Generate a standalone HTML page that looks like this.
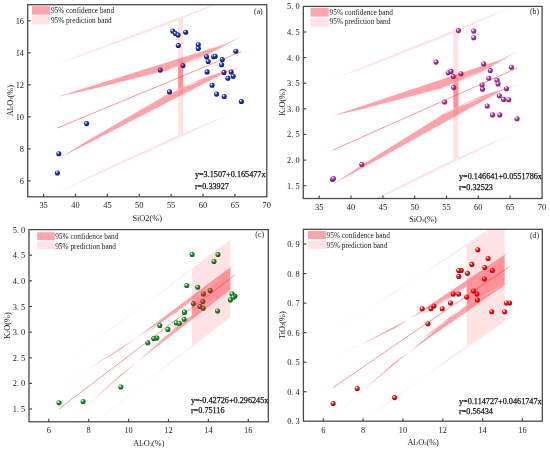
<!DOCTYPE html><html><head><meta charset="utf-8"><style>
html,body{margin:0;padding:0;background:#fff;width:550px;height:451px;overflow:hidden}
svg{display:block;will-change:transform}
text{font-family:"Liberation Serif",serif;fill:#222}
.b{stroke:#111;stroke-width:0.25px}
</style></head><body>
<svg width="550" height="451" viewBox="0 0 550 451">
<defs>
<radialGradient id="ga" cx="0.45" cy="0.42" r="0.6" fx="0.33" fy="0.3"><stop offset="0" stop-color="#ffffff"/><stop offset="0.18" stop-color="#b8c4ff"/><stop offset="0.45" stop-color="#1838a8"/><stop offset="1" stop-color="#0a1a70"/></radialGradient>
<radialGradient id="gb" cx="0.45" cy="0.42" r="0.6" fx="0.33" fy="0.3"><stop offset="0" stop-color="#ffffff"/><stop offset="0.18" stop-color="#f8d0f8"/><stop offset="0.45" stop-color="#b038b0"/><stop offset="1" stop-color="#781878"/></radialGradient>
<radialGradient id="gc" cx="0.45" cy="0.42" r="0.6" fx="0.33" fy="0.3"><stop offset="0" stop-color="#ffffff"/><stop offset="0.18" stop-color="#c0f4c8"/><stop offset="0.45" stop-color="#129a30"/><stop offset="1" stop-color="#056018"/></radialGradient>
<radialGradient id="gd" cx="0.45" cy="0.42" r="0.6" fx="0.33" fy="0.3"><stop offset="0" stop-color="#ffffff"/><stop offset="0.18" stop-color="#ffd0d0"/><stop offset="0.45" stop-color="#f21414"/><stop offset="1" stop-color="#a80000"/></radialGradient>
</defs>
<clipPath id="ca"><rect x="27.7" y="4.7" width="239.1" height="192.1"/></clipPath>
<circle cx="57.4" cy="173.0" r="2.55" fill="url(#ga)"/>
<circle cx="58.8" cy="153.7" r="2.55" fill="url(#ga)"/>
<circle cx="86.6" cy="123.6" r="2.55" fill="url(#ga)"/>
<circle cx="160.3" cy="70.1" r="2.55" fill="url(#ga)"/>
<circle cx="169.5" cy="91.9" r="2.55" fill="url(#ga)"/>
<circle cx="172.8" cy="31.1" r="2.55" fill="url(#ga)"/>
<circle cx="175.5" cy="33.5" r="2.55" fill="url(#ga)"/>
<circle cx="178.1" cy="35.1" r="2.55" fill="url(#ga)"/>
<circle cx="178.3" cy="45.5" r="2.55" fill="url(#ga)"/>
<circle cx="183.0" cy="65.6" r="2.55" fill="url(#ga)"/>
<circle cx="185.7" cy="32.2" r="2.55" fill="url(#ga)"/>
<circle cx="198.3" cy="44.8" r="2.55" fill="url(#ga)"/>
<circle cx="198.3" cy="48.5" r="2.55" fill="url(#ga)"/>
<circle cx="206.6" cy="56.7" r="2.55" fill="url(#ga)"/>
<circle cx="207.1" cy="71.9" r="2.55" fill="url(#ga)"/>
<circle cx="208.2" cy="61.5" r="2.55" fill="url(#ga)"/>
<circle cx="212.1" cy="85.3" r="2.55" fill="url(#ga)"/>
<circle cx="213.6" cy="56.8" r="2.55" fill="url(#ga)"/>
<circle cx="215.2" cy="56.2" r="2.55" fill="url(#ga)"/>
<circle cx="216.6" cy="94.1" r="2.55" fill="url(#ga)"/>
<circle cx="221.6" cy="64.7" r="2.55" fill="url(#ga)"/>
<circle cx="222.3" cy="59.6" r="2.55" fill="url(#ga)"/>
<circle cx="224.0" cy="72.4" r="2.55" fill="url(#ga)"/>
<circle cx="224.2" cy="96.5" r="2.55" fill="url(#ga)"/>
<circle cx="227.9" cy="78.3" r="2.55" fill="url(#ga)"/>
<circle cx="231.2" cy="72.0" r="2.55" fill="url(#ga)"/>
<circle cx="233.2" cy="76.2" r="2.55" fill="url(#ga)"/>
<circle cx="235.8" cy="51.2" r="2.55" fill="url(#ga)"/>
<circle cx="241.4" cy="101.5" r="2.55" fill="url(#ga)"/>
<g clip-path="url(#ca)">
<path d="M178.07,20.42 L208.23,7.84 L227.93,-0.79 L198.28,12.08 L198.28,12.08 L213.59,5.53 L185.66,17.33 L207.08,8.34 L235.84,-4.34 L224.23,0.86 L241.45,-6.90 L175.46,21.48 L160.35,27.46 L216.58,4.22 L223.98,0.97 L178.26,20.35 L206.57,8.56 L169.47,23.87 L233.16,-3.13 L215.18,4.84 L222.26,1.73 L221.56,2.04 L212.06,6.19 L231.18,-2.25 L58.78,63.01 L57.44,63.43 L86.58,54.02 L172.78,22.55 L183.05,18.40 L183.05,133.31 L172.78,137.69 L86.58,177.84 L57.44,192.63 L58.78,191.93 L231.18,113.96 L212.06,121.42 L221.56,117.68 L222.26,117.40 L215.18,120.18 L233.16,113.21 L169.47,139.12 L206.57,123.61 L178.26,135.34 L223.98,116.73 L216.58,119.62 L160.35,143.11 L175.46,136.54 L241.45,110.09 L224.23,116.64 L235.84,112.20 L207.08,123.40 L185.66,132.21 L213.59,120.81 L198.28,126.97 L198.28,126.97 L227.93,115.21 L208.23,122.94 L178.07,135.42 Z" fill="rgb(255,0,20)" fill-opacity="0.114" fill-rule="nonzero"/>
<path d="M178.07,67.04 L208.23,54.25 L227.93,43.94 L198.28,58.92 L198.28,58.92 L213.59,51.57 L185.66,64.21 L207.08,54.81 L235.84,39.52 L224.23,45.96 L241.45,36.31 L175.46,67.96 L160.35,72.78 L216.58,50.03 L223.98,46.10 L178.26,66.98 L206.57,55.06 L169.47,69.97 L233.16,41.03 L215.18,50.75 L222.26,47.03 L221.56,47.40 L212.06,52.35 L231.18,42.13 L58.78,96.37 L57.44,96.65 L86.58,90.53 L172.78,68.87 L183.05,65.22 L183.05,86.49 L172.78,91.36 L86.58,141.33 L57.44,159.41 L58.78,158.58 L231.18,69.58 L212.06,75.26 L221.56,72.32 L222.26,72.11 L215.18,74.26 L233.16,69.05 L169.47,93.03 L206.57,77.11 L178.26,88.71 L223.98,71.61 L216.58,73.82 L160.35,97.79 L175.46,90.05 L241.45,66.88 L224.23,71.53 L235.84,68.34 L207.08,76.93 L185.66,85.32 L213.59,74.77 L198.28,80.13 L198.28,80.13 L227.93,70.48 L208.23,76.54 L178.07,88.80 Z" fill="rgb(255,0,20)" fill-opacity="0.36" fill-rule="nonzero"/>
<line x1="57.4" y1="128.0" x2="241.4" y2="51.6" stroke="rgb(236,30,45)" stroke-opacity="0.5" stroke-width="0.9"/>
</g>
<rect x="27.7" y="4.7" width="239.1" height="192.1" fill="none" stroke="#4a4a4a" stroke-width="1.3"/>
<line x1="43.6" y1="196.8" x2="43.6" y2="193.8" stroke="#4a4a4a" stroke-width="1.2"/>
<text x="43.6" y="208.4" font-size="8.4" text-anchor="middle" fill="#3a3a3a">35</text>
<line x1="75.5" y1="196.8" x2="75.5" y2="193.8" stroke="#4a4a4a" stroke-width="1.2"/>
<text x="75.5" y="208.4" font-size="8.4" text-anchor="middle" fill="#3a3a3a">40</text>
<line x1="107.4" y1="196.8" x2="107.4" y2="193.8" stroke="#4a4a4a" stroke-width="1.2"/>
<text x="107.4" y="208.4" font-size="8.4" text-anchor="middle" fill="#3a3a3a">45</text>
<line x1="139.2" y1="196.8" x2="139.2" y2="193.8" stroke="#4a4a4a" stroke-width="1.2"/>
<text x="139.2" y="208.4" font-size="8.4" text-anchor="middle" fill="#3a3a3a">50</text>
<line x1="171.1" y1="196.8" x2="171.1" y2="193.8" stroke="#4a4a4a" stroke-width="1.2"/>
<text x="171.1" y="208.4" font-size="8.4" text-anchor="middle" fill="#3a3a3a">55</text>
<line x1="203.0" y1="196.8" x2="203.0" y2="193.8" stroke="#4a4a4a" stroke-width="1.2"/>
<text x="203.0" y="208.4" font-size="8.4" text-anchor="middle" fill="#3a3a3a">60</text>
<line x1="234.9" y1="196.8" x2="234.9" y2="193.8" stroke="#4a4a4a" stroke-width="1.2"/>
<text x="234.9" y="208.4" font-size="8.4" text-anchor="middle" fill="#3a3a3a">65</text>
<text x="266.8" y="208.4" font-size="8.4" text-anchor="middle" fill="#3a3a3a">70</text>
<line x1="27.7" y1="180.9" x2="30.7" y2="180.9" stroke="#4a4a4a" stroke-width="1.2"/>
<text x="24.0" y="183.9" font-size="8.4" text-anchor="end" fill="#3a3a3a">6</text>
<line x1="27.7" y1="148.9" x2="30.7" y2="148.9" stroke="#4a4a4a" stroke-width="1.2"/>
<text x="24.0" y="151.9" font-size="8.4" text-anchor="end" fill="#3a3a3a">8</text>
<line x1="27.7" y1="116.8" x2="30.7" y2="116.8" stroke="#4a4a4a" stroke-width="1.2"/>
<text x="24.0" y="119.8" font-size="8.4" text-anchor="end" fill="#3a3a3a">10</text>
<line x1="27.7" y1="84.8" x2="30.7" y2="84.8" stroke="#4a4a4a" stroke-width="1.2"/>
<text x="24.0" y="87.8" font-size="8.4" text-anchor="end" fill="#3a3a3a">12</text>
<line x1="27.7" y1="52.8" x2="30.7" y2="52.8" stroke="#4a4a4a" stroke-width="1.2"/>
<text x="24.0" y="55.8" font-size="8.4" text-anchor="end" fill="#3a3a3a">14</text>
<line x1="27.7" y1="20.8" x2="30.7" y2="20.8" stroke="#4a4a4a" stroke-width="1.2"/>
<text x="24.0" y="23.8" font-size="8.4" text-anchor="end" fill="#3a3a3a">16</text>
<rect x="32.0" y="6.2" width="18.2" height="8.5" fill="#ffa4aa"/>
<rect x="32.0" y="16.0" width="18.2" height="8.5" fill="#ffe2e4"/>
<text x="50.9" y="13.3" font-size="7.3" fill="#1a1a1a">95% confidence band</text>
<text x="50.9" y="23.2" font-size="7.3" fill="#1a1a1a">95% prediction band</text>
<text x="194.9" y="176.6" font-size="8.2" fill="#111" class="b">y=3.1507+0.165477x</text>
<text x="194.9" y="189.0" font-size="8.2" fill="#111" class="b">r=0.33927</text>
<text x="262.7" y="14.0" font-size="7.8" text-anchor="end" fill="#333">(a)</text>
<text x="147.2" y="221.2" font-size="8.3" text-anchor="middle" fill="#151515">SiO<tspan>2</tspan>(%)</text>
<text transform="translate(12.6,100.7) rotate(-90)" font-size="8.3" text-anchor="middle" fill="#151515">Al<tspan font-size="4.5">2</tspan>O<tspan font-size="4.5">3</tspan>(%)</text>
<clipPath id="cb"><rect x="303.3" y="6.4" width="238.8" height="192.1"/></clipPath>
<circle cx="332.5" cy="179.5" r="2.55" fill="url(#gb)"/>
<circle cx="333.5" cy="178.5" r="2.55" fill="url(#gb)"/>
<circle cx="361.8" cy="164.5" r="2.55" fill="url(#gb)"/>
<circle cx="436.0" cy="62.1" r="2.55" fill="url(#gb)"/>
<circle cx="444.6" cy="102.0" r="2.55" fill="url(#gb)"/>
<circle cx="448.2" cy="72.8" r="2.55" fill="url(#gb)"/>
<circle cx="451.1" cy="71.4" r="2.55" fill="url(#gb)"/>
<circle cx="453.3" cy="76.5" r="2.55" fill="url(#gb)"/>
<circle cx="453.7" cy="87.6" r="2.55" fill="url(#gb)"/>
<circle cx="458.4" cy="30.6" r="2.55" fill="url(#gb)"/>
<circle cx="461.0" cy="73.7" r="2.55" fill="url(#gb)"/>
<circle cx="473.7" cy="31.1" r="2.55" fill="url(#gb)"/>
<circle cx="473.7" cy="37.7" r="2.55" fill="url(#gb)"/>
<circle cx="482.1" cy="85.0" r="2.55" fill="url(#gb)"/>
<circle cx="482.5" cy="89.2" r="2.55" fill="url(#gb)"/>
<circle cx="483.7" cy="63.9" r="2.55" fill="url(#gb)"/>
<circle cx="487.2" cy="106.0" r="2.55" fill="url(#gb)"/>
<circle cx="488.8" cy="78.3" r="2.55" fill="url(#gb)"/>
<circle cx="490.3" cy="70.6" r="2.55" fill="url(#gb)"/>
<circle cx="492.5" cy="114.9" r="2.55" fill="url(#gb)"/>
<circle cx="497.0" cy="80.3" r="2.55" fill="url(#gb)"/>
<circle cx="498.1" cy="83.9" r="2.55" fill="url(#gb)"/>
<circle cx="499.4" cy="95.8" r="2.55" fill="url(#gb)"/>
<circle cx="499.8" cy="114.9" r="2.55" fill="url(#gb)"/>
<circle cx="503.6" cy="99.4" r="2.55" fill="url(#gb)"/>
<circle cx="506.5" cy="88.7" r="2.55" fill="url(#gb)"/>
<circle cx="508.7" cy="99.8" r="2.55" fill="url(#gb)"/>
<circle cx="511.4" cy="67.2" r="2.55" fill="url(#gb)"/>
<circle cx="517.1" cy="118.7" r="2.55" fill="url(#gb)"/>
<g clip-path="url(#cb)">
<path d="M453.33,33.27 L483.73,19.70 L503.58,10.39 L473.68,24.28 L473.68,24.28 L488.82,17.35 L461.02,29.92 L482.52,20.26 L511.40,6.62 L499.82,12.18 L517.12,3.82 L451.10,34.23 L436.03,40.61 L492.51,15.63 L499.38,12.39 L453.71,33.11 L482.08,20.46 L444.61,37.00 L508.73,7.91 L490.28,16.67 L498.11,12.99 L497.02,13.50 L487.23,18.09 L506.50,8.98 L333.49,78.84 L332.48,79.18 L361.80,69.11 L448.18,35.49 L458.42,31.06 L458.42,157.38 L448.18,162.06 L361.80,205.21 L332.48,221.20 L333.49,220.63 L506.50,136.72 L487.23,144.75 L497.02,140.63 L498.11,140.18 L490.28,143.45 L508.73,135.82 L444.61,163.71 L482.08,146.95 L453.71,159.52 L499.38,139.65 L492.51,142.52 L436.03,167.74 L451.10,160.71 L517.12,132.44 L499.82,139.46 L511.40,134.74 L482.52,146.76 L461.02,156.21 L488.82,144.07 L473.68,150.59 L473.68,150.59 L503.58,137.92 L483.73,146.24 L453.33,159.70 Z" fill="rgb(255,0,20)" fill-opacity="0.114" fill-rule="nonzero"/>
<path d="M453.33,84.52 L483.73,70.72 L503.58,59.55 L473.68,75.78 L473.68,75.78 L488.82,67.99 L461.02,81.46 L482.52,71.35 L511.40,54.83 L499.82,61.76 L517.12,51.31 L451.10,85.35 L436.03,90.47 L492.51,65.94 L499.38,62.01 L453.71,84.37 L482.08,71.58 L444.61,87.66 L508.73,56.46 L490.28,67.18 L498.11,62.75 L497.02,63.38 L487.23,68.85 L506.50,57.80 L333.49,115.48 L332.48,115.70 L361.80,109.27 L448.18,86.42 L458.42,82.53 L458.42,105.92 L448.18,111.13 L361.80,165.05 L332.48,184.68 L333.49,183.99 L506.50,87.91 L487.23,93.99 L497.02,90.75 L498.11,90.42 L490.28,92.94 L508.73,87.27 L444.61,113.05 L482.08,95.83 L453.71,108.25 L499.38,90.02 L492.51,92.20 L436.03,117.87 L451.10,109.59 L517.12,84.96 L499.82,89.89 L511.40,86.52 L482.52,95.67 L461.02,104.67 L488.82,93.44 L473.68,99.09 L473.68,99.09 L503.58,88.76 L483.73,95.23 L453.33,108.45 Z" fill="rgb(255,0,20)" fill-opacity="0.36" fill-rule="nonzero"/>
<line x1="332.5" y1="150.2" x2="517.1" y2="68.1" stroke="rgb(236,30,45)" stroke-opacity="0.5" stroke-width="0.9"/>
</g>
<rect x="303.3" y="6.4" width="238.8" height="192.1" fill="none" stroke="#4a4a4a" stroke-width="1.3"/>
<line x1="319.2" y1="198.5" x2="319.2" y2="195.5" stroke="#4a4a4a" stroke-width="1.2"/>
<text x="319.2" y="210.1" font-size="8.4" text-anchor="middle" fill="#3a3a3a">35</text>
<line x1="351.0" y1="198.5" x2="351.0" y2="195.5" stroke="#4a4a4a" stroke-width="1.2"/>
<text x="351.0" y="210.1" font-size="8.4" text-anchor="middle" fill="#3a3a3a">40</text>
<line x1="382.9" y1="198.5" x2="382.9" y2="195.5" stroke="#4a4a4a" stroke-width="1.2"/>
<text x="382.9" y="210.1" font-size="8.4" text-anchor="middle" fill="#3a3a3a">45</text>
<line x1="414.7" y1="198.5" x2="414.7" y2="195.5" stroke="#4a4a4a" stroke-width="1.2"/>
<text x="414.7" y="210.1" font-size="8.4" text-anchor="middle" fill="#3a3a3a">50</text>
<line x1="446.5" y1="198.5" x2="446.5" y2="195.5" stroke="#4a4a4a" stroke-width="1.2"/>
<text x="446.5" y="210.1" font-size="8.4" text-anchor="middle" fill="#3a3a3a">55</text>
<line x1="478.3" y1="198.5" x2="478.3" y2="195.5" stroke="#4a4a4a" stroke-width="1.2"/>
<text x="478.3" y="210.1" font-size="8.4" text-anchor="middle" fill="#3a3a3a">60</text>
<line x1="510.1" y1="198.5" x2="510.1" y2="195.5" stroke="#4a4a4a" stroke-width="1.2"/>
<text x="510.1" y="210.1" font-size="8.4" text-anchor="middle" fill="#3a3a3a">65</text>
<text x="541.9" y="210.1" font-size="8.4" text-anchor="middle" fill="#3a3a3a">70</text>
<line x1="303.3" y1="185.7" x2="306.3" y2="185.7" stroke="#4a4a4a" stroke-width="1.2"/>
<text x="299.6" y="188.7" font-size="8.4" text-anchor="end" fill="#3a3a3a">1. 5</text>
<line x1="303.3" y1="160.1" x2="306.3" y2="160.1" stroke="#4a4a4a" stroke-width="1.2"/>
<text x="299.6" y="163.1" font-size="8.4" text-anchor="end" fill="#3a3a3a">2. 0</text>
<line x1="303.3" y1="134.4" x2="306.3" y2="134.4" stroke="#4a4a4a" stroke-width="1.2"/>
<text x="299.6" y="137.4" font-size="8.4" text-anchor="end" fill="#3a3a3a">2. 5</text>
<line x1="303.3" y1="108.8" x2="306.3" y2="108.8" stroke="#4a4a4a" stroke-width="1.2"/>
<text x="299.6" y="111.8" font-size="8.4" text-anchor="end" fill="#3a3a3a">3. 0</text>
<line x1="303.3" y1="83.2" x2="306.3" y2="83.2" stroke="#4a4a4a" stroke-width="1.2"/>
<text x="299.6" y="86.2" font-size="8.4" text-anchor="end" fill="#3a3a3a">3. 5</text>
<line x1="303.3" y1="57.6" x2="306.3" y2="57.6" stroke="#4a4a4a" stroke-width="1.2"/>
<text x="299.6" y="60.6" font-size="8.4" text-anchor="end" fill="#3a3a3a">4. 0</text>
<line x1="303.3" y1="32.0" x2="306.3" y2="32.0" stroke="#4a4a4a" stroke-width="1.2"/>
<text x="299.6" y="35.0" font-size="8.4" text-anchor="end" fill="#3a3a3a">4. 5</text>
<text x="299.6" y="9.4" font-size="8.4" text-anchor="end" fill="#3a3a3a">5. 0</text>
<rect x="310.6" y="8.0" width="18.0" height="8.6" fill="#ffa4aa"/>
<rect x="310.6" y="18.2" width="18.0" height="8.6" fill="#ffe2e4"/>
<text x="329.6" y="15.0" font-size="7.3" fill="#1a1a1a">95% confidence band</text>
<text x="329.6" y="24.2" font-size="7.3" fill="#1a1a1a">95% prediction band</text>
<text x="459.0" y="178.9" font-size="8.2" fill="#111" class="b">y=0.146641+0.0551786x</text>
<text x="459.0" y="189.5" font-size="8.2" fill="#111" class="b">r=0.32523</text>
<text x="539.1" y="14.2" font-size="7.8" text-anchor="end" fill="#333">(b)</text>
<text x="423.0" y="221.6" font-size="8.3" text-anchor="middle" fill="#151515">SiO<tspan font-size="4.5">2</tspan>(%)</text>
<text transform="translate(284.6,102.4) rotate(-90)" font-size="8.3" text-anchor="middle" fill="#151515">K<tspan font-size="4.5">2</tspan>O(%)</text>
<clipPath id="cc"><rect x="29.0" y="229.6" width="239.3" height="192.2"/></clipPath>
<circle cx="59.0" cy="402.8" r="2.55" fill="url(#gc)"/>
<circle cx="83.1" cy="401.5" r="2.55" fill="url(#gc)"/>
<circle cx="120.8" cy="387.0" r="2.55" fill="url(#gc)"/>
<circle cx="186.7" cy="285.5" r="2.55" fill="url(#gc)"/>
<circle cx="159.8" cy="325.5" r="2.55" fill="url(#gc)"/>
<circle cx="235.0" cy="296.1" r="2.55" fill="url(#gc)"/>
<circle cx="232.0" cy="293.9" r="2.55" fill="url(#gc)"/>
<circle cx="230.4" cy="299.9" r="2.55" fill="url(#gc)"/>
<circle cx="217.6" cy="311.0" r="2.55" fill="url(#gc)"/>
<circle cx="192.1" cy="254.4" r="2.55" fill="url(#gc)"/>
<circle cx="233.2" cy="297.2" r="2.55" fill="url(#gc)"/>
<circle cx="218.0" cy="254.6" r="2.55" fill="url(#gc)"/>
<circle cx="214.0" cy="261.5" r="2.55" fill="url(#gc)"/>
<circle cx="203.2" cy="308.3" r="2.55" fill="url(#gc)"/>
<circle cx="184.5" cy="312.1" r="2.55" fill="url(#gc)"/>
<circle cx="197.7" cy="287.2" r="2.55" fill="url(#gc)"/>
<circle cx="167.9" cy="329.4" r="2.55" fill="url(#gc)"/>
<circle cx="202.8" cy="301.6" r="2.55" fill="url(#gc)"/>
<circle cx="203.4" cy="293.9" r="2.55" fill="url(#gc)"/>
<circle cx="156.8" cy="338.1" r="2.55" fill="url(#gc)"/>
<circle cx="193.3" cy="303.6" r="2.55" fill="url(#gc)"/>
<circle cx="199.9" cy="306.5" r="2.55" fill="url(#gc)"/>
<circle cx="184.1" cy="319.3" r="2.55" fill="url(#gc)"/>
<circle cx="153.8" cy="338.4" r="2.55" fill="url(#gc)"/>
<circle cx="176.3" cy="322.9" r="2.55" fill="url(#gc)"/>
<circle cx="184.5" cy="312.2" r="2.55" fill="url(#gc)"/>
<circle cx="179.3" cy="323.3" r="2.55" fill="url(#gc)"/>
<circle cx="210.2" cy="290.6" r="2.55" fill="url(#gc)"/>
<circle cx="147.8" cy="342.7" r="2.55" fill="url(#gc)"/>
<g clip-path="url(#cc)">
<path d="M230.38,239.60 L197.66,265.25 L176.31,281.55 L218.01,249.39 L214.02,252.52 L202.84,261.23 L233.17,237.38 L184.49,275.34 L210.23,255.49 L153.77,298.39 L147.78,302.80 L231.97,238.33 L186.68,273.67 L156.76,296.18 L184.09,275.65 L217.61,249.70 L203.24,260.92 L159.75,293.96 L179.30,279.28 L203.44,260.77 L199.85,263.55 L193.27,268.63 L167.93,287.85 L184.49,275.34 L83.14,348.84 L59.00,365.38 L120.85,322.32 L234.96,235.94 L192.07,269.55 L192.07,345.77 L234.96,314.07 L120.85,401.42 L59.00,452.51 L83.14,432.30 L184.49,351.51 L167.93,364.21 L193.27,344.86 L199.85,339.92 L203.44,337.23 L179.30,355.47 L159.75,370.56 L203.24,337.38 L217.61,326.73 L184.09,351.81 L156.76,372.89 L186.68,349.84 L231.97,316.24 L147.78,379.94 L153.77,375.23 L210.23,332.19 L184.49,351.51 L233.17,315.37 L202.84,337.68 L214.02,329.38 L218.01,326.44 L176.31,357.76 L197.66,341.56 L230.38,317.40 Z" fill="rgb(255,0,20)" fill-opacity="0.114" fill-rule="nonzero"/>
<path d="M230.38,267.96 L197.66,296.06 L176.31,312.59 L218.01,278.85 L214.02,282.30 L202.84,291.78 L233.17,265.47 L184.49,306.47 L210.23,285.55 L153.77,328.20 L147.78,332.12 L231.97,266.54 L186.68,304.78 L156.76,326.21 L184.09,306.78 L217.61,279.19 L203.24,291.45 L159.75,324.20 L179.30,310.38 L203.44,291.28 L199.85,294.26 L193.27,299.60 L167.93,318.58 L184.49,306.47 L83.14,372.15 L59.00,386.68 L120.85,349.14 L234.96,263.87 L192.07,300.56 L192.07,314.75 L234.96,286.14 L120.85,374.60 L59.00,431.21 L83.14,408.99 L184.49,320.38 L167.93,333.48 L193.27,313.89 L199.85,309.21 L203.44,306.72 L179.30,324.37 L159.75,340.31 L203.24,306.86 L217.61,297.24 L184.09,320.68 L156.76,342.85 L186.68,318.73 L231.97,288.03 L147.78,350.61 L153.77,345.42 L210.23,302.12 L184.49,320.38 L233.17,287.27 L202.84,307.13 L214.02,299.60 L218.01,296.98 L176.31,326.72 L197.66,310.75 L230.38,289.04 Z" fill="rgb(255,0,20)" fill-opacity="0.36" fill-rule="nonzero"/>
<line x1="59.0" y1="408.9" x2="235.0" y2="275.0" stroke="rgb(236,30,45)" stroke-opacity="0.5" stroke-width="0.9"/>
</g>
<rect x="29.0" y="229.6" width="239.3" height="192.2" fill="none" stroke="#4a4a4a" stroke-width="1.3"/>
<line x1="48.8" y1="421.8" x2="48.8" y2="418.8" stroke="#4a4a4a" stroke-width="1.2"/>
<text x="48.8" y="433.4" font-size="8.4" text-anchor="middle" fill="#3a3a3a">6</text>
<line x1="88.7" y1="421.8" x2="88.7" y2="418.8" stroke="#4a4a4a" stroke-width="1.2"/>
<text x="88.7" y="433.4" font-size="8.4" text-anchor="middle" fill="#3a3a3a">8</text>
<line x1="128.6" y1="421.8" x2="128.6" y2="418.8" stroke="#4a4a4a" stroke-width="1.2"/>
<text x="128.6" y="433.4" font-size="8.4" text-anchor="middle" fill="#3a3a3a">10</text>
<line x1="168.5" y1="421.8" x2="168.5" y2="418.8" stroke="#4a4a4a" stroke-width="1.2"/>
<text x="168.5" y="433.4" font-size="8.4" text-anchor="middle" fill="#3a3a3a">12</text>
<line x1="208.4" y1="421.8" x2="208.4" y2="418.8" stroke="#4a4a4a" stroke-width="1.2"/>
<text x="208.4" y="433.4" font-size="8.4" text-anchor="middle" fill="#3a3a3a">14</text>
<line x1="248.3" y1="421.8" x2="248.3" y2="418.8" stroke="#4a4a4a" stroke-width="1.2"/>
<text x="248.3" y="433.4" font-size="8.4" text-anchor="middle" fill="#3a3a3a">16</text>
<line x1="29.0" y1="409.0" x2="32.0" y2="409.0" stroke="#4a4a4a" stroke-width="1.2"/>
<text x="25.3" y="412.0" font-size="8.4" text-anchor="end" fill="#3a3a3a">1. 5</text>
<line x1="29.0" y1="383.4" x2="32.0" y2="383.4" stroke="#4a4a4a" stroke-width="1.2"/>
<text x="25.3" y="386.4" font-size="8.4" text-anchor="end" fill="#3a3a3a">2. 0</text>
<line x1="29.0" y1="357.8" x2="32.0" y2="357.8" stroke="#4a4a4a" stroke-width="1.2"/>
<text x="25.3" y="360.8" font-size="8.4" text-anchor="end" fill="#3a3a3a">2. 5</text>
<line x1="29.0" y1="332.1" x2="32.0" y2="332.1" stroke="#4a4a4a" stroke-width="1.2"/>
<text x="25.3" y="335.1" font-size="8.4" text-anchor="end" fill="#3a3a3a">3. 0</text>
<line x1="29.0" y1="306.5" x2="32.0" y2="306.5" stroke="#4a4a4a" stroke-width="1.2"/>
<text x="25.3" y="309.5" font-size="8.4" text-anchor="end" fill="#3a3a3a">3. 5</text>
<line x1="29.0" y1="280.9" x2="32.0" y2="280.9" stroke="#4a4a4a" stroke-width="1.2"/>
<text x="25.3" y="283.9" font-size="8.4" text-anchor="end" fill="#3a3a3a">4. 0</text>
<line x1="29.0" y1="255.2" x2="32.0" y2="255.2" stroke="#4a4a4a" stroke-width="1.2"/>
<text x="25.3" y="258.2" font-size="8.4" text-anchor="end" fill="#3a3a3a">4. 5</text>
<text x="25.3" y="232.6" font-size="8.4" text-anchor="end" fill="#3a3a3a">5. 0</text>
<rect x="37.2" y="232.3" width="17.5" height="7.8" fill="#ffa4aa"/>
<rect x="37.2" y="241.3" width="17.5" height="7.8" fill="#ffe2e4"/>
<text x="55.2" y="239.3" font-size="7.3" fill="#1a1a1a">95% confidence band</text>
<text x="55.2" y="248.6" font-size="7.3" fill="#1a1a1a">95% prediction band</text>
<text x="190.9" y="403.3" font-size="8.2" fill="#111" class="b">y=-0.42726+0.296245x</text>
<text x="190.9" y="413.1" font-size="8.2" fill="#111" class="b">r=0.75116</text>
<text x="264.0" y="237.2" font-size="7.8" text-anchor="end" fill="#333">(c)</text>
<text x="148.9" y="445.5" font-size="8.3" text-anchor="middle" fill="#151515">Al<tspan font-size="4.5">2</tspan>O<tspan font-size="4.5">3</tspan>(%)</text>
<text transform="translate(10.2,325.6) rotate(-90)" font-size="8.3" text-anchor="middle" fill="#151515">K<tspan font-size="4.5">2</tspan>O(%)</text>
<clipPath id="cd"><rect x="303.4" y="229.3" width="238.9" height="191.9"/></clipPath>
<circle cx="333.1" cy="403.5" r="2.55" fill="url(#gd)"/>
<circle cx="357.2" cy="388.5" r="2.55" fill="url(#gd)"/>
<circle cx="394.6" cy="397.6" r="2.55" fill="url(#gd)"/>
<circle cx="461.3" cy="270.5" r="2.55" fill="url(#gd)"/>
<circle cx="434.0" cy="306.0" r="2.55" fill="url(#gd)"/>
<circle cx="509.6" cy="303.0" r="2.55" fill="url(#gd)"/>
<circle cx="506.5" cy="303.0" r="2.55" fill="url(#gd)"/>
<circle cx="504.7" cy="311.8" r="2.55" fill="url(#gd)"/>
<circle cx="491.7" cy="311.8" r="2.55" fill="url(#gd)"/>
<circle cx="466.6" cy="297.1" r="2.55" fill="url(#gd)"/>
<circle cx="484.8" cy="267.5" r="2.55" fill="url(#gd)"/>
<circle cx="492.3" cy="270.5" r="2.55" fill="url(#gd)"/>
<circle cx="488.1" cy="258.5" r="2.55" fill="url(#gd)"/>
<circle cx="477.4" cy="300.0" r="2.55" fill="url(#gd)"/>
<circle cx="458.7" cy="276.4" r="2.55" fill="url(#gd)"/>
<circle cx="471.8" cy="264.4" r="2.55" fill="url(#gd)"/>
<circle cx="442.2" cy="308.8" r="2.55" fill="url(#gd)"/>
<circle cx="477.0" cy="294.1" r="2.55" fill="url(#gd)"/>
<circle cx="477.8" cy="249.8" r="2.55" fill="url(#gd)"/>
<circle cx="431.0" cy="308.8" r="2.55" fill="url(#gd)"/>
<circle cx="467.4" cy="273.3" r="2.55" fill="url(#gd)"/>
<circle cx="473.6" cy="291.1" r="2.55" fill="url(#gd)"/>
<circle cx="458.7" cy="294.1" r="2.55" fill="url(#gd)"/>
<circle cx="428.0" cy="323.7" r="2.55" fill="url(#gd)"/>
<circle cx="450.5" cy="303.0" r="2.55" fill="url(#gd)"/>
<circle cx="458.7" cy="270.5" r="2.55" fill="url(#gd)"/>
<circle cx="453.3" cy="294.1" r="2.55" fill="url(#gd)"/>
<circle cx="484.4" cy="279.0" r="2.55" fill="url(#gd)"/>
<circle cx="422.2" cy="308.8" r="2.55" fill="url(#gd)"/>
<g clip-path="url(#cd)">
<path d="M504.66,218.50 L471.82,242.04 L450.52,256.72 L492.32,227.47 L488.14,230.48 L476.99,238.40 L484.76,232.90 L458.68,251.15 L484.36,233.18 L428.02,271.72 L422.25,275.49 L506.46,217.19 L461.27,249.37 L431.01,269.76 L458.68,251.15 L491.73,227.90 L477.39,238.12 L433.99,267.79 L453.30,254.83 L477.79,237.84 L473.61,240.79 L467.44,245.10 L442.16,262.36 L458.68,251.15 L357.15,315.79 L333.07,329.82 L394.58,293.09 L509.64,214.84 L466.64,245.65 L466.64,346.26 L509.64,318.16 L394.58,397.56 L333.07,445.10 L357.15,426.13 L458.68,351.67 L442.16,363.10 L467.44,345.72 L473.61,341.58 L477.79,338.79 L453.30,355.36 L433.99,368.85 L477.39,339.06 L491.73,329.64 L458.68,351.67 L431.01,370.97 L461.27,349.90 L506.46,320.17 L422.25,377.25 L428.02,373.10 L484.36,334.45 L458.68,351.67 L484.76,334.19 L476.99,339.32 L488.14,331.98 L492.32,329.25 L450.52,357.28 L471.82,342.78 L504.66,321.31 Z" fill="rgb(255,0,20)" fill-opacity="0.114" fill-rule="nonzero"/>
<path d="M504.66,255.73 L471.82,282.64 L450.52,297.70 L492.32,266.19 L488.14,269.65 L476.99,278.64 L484.76,272.42 L458.68,292.23 L484.36,272.75 L428.02,311.09 L422.25,314.23 L506.46,254.19 L461.27,290.41 L431.01,309.43 L458.68,292.23 L491.73,266.68 L477.39,278.32 L433.99,307.74 L453.30,295.87 L477.79,278.01 L473.61,281.27 L467.44,285.94 L442.16,302.94 L458.68,292.23 L357.15,346.43 L333.07,357.77 L394.58,328.39 L509.64,251.44 L466.64,286.53 L466.64,305.38 L509.64,281.56 L394.58,362.26 L333.07,417.15 L357.15,395.49 L458.68,310.59 L442.16,322.52 L467.44,304.88 L473.61,301.09 L477.79,298.63 L453.30,314.31 L433.99,328.90 L477.39,298.86 L491.73,290.86 L458.68,310.59 L431.01,331.30 L461.27,308.86 L506.46,283.18 L422.25,338.50 L428.02,333.73 L484.36,294.89 L458.68,310.59 L484.76,294.67 L476.99,299.09 L488.14,292.80 L492.32,290.54 L450.52,316.30 L471.82,302.17 L504.66,284.09 Z" fill="rgb(255,0,20)" fill-opacity="0.36" fill-rule="nonzero"/>
<line x1="333.1" y1="387.5" x2="509.6" y2="266.5" stroke="rgb(236,30,45)" stroke-opacity="0.5" stroke-width="0.9"/>
</g>
<rect x="303.4" y="229.3" width="238.9" height="191.9" fill="none" stroke="#4a4a4a" stroke-width="1.3"/>
<line x1="323.3" y1="421.2" x2="323.3" y2="418.2" stroke="#4a4a4a" stroke-width="1.2"/>
<text x="323.3" y="432.8" font-size="8.4" text-anchor="middle" fill="#3a3a3a">6</text>
<line x1="363.1" y1="421.2" x2="363.1" y2="418.2" stroke="#4a4a4a" stroke-width="1.2"/>
<text x="363.1" y="432.8" font-size="8.4" text-anchor="middle" fill="#3a3a3a">8</text>
<line x1="402.9" y1="421.2" x2="402.9" y2="418.2" stroke="#4a4a4a" stroke-width="1.2"/>
<text x="402.9" y="432.8" font-size="8.4" text-anchor="middle" fill="#3a3a3a">10</text>
<line x1="442.8" y1="421.2" x2="442.8" y2="418.2" stroke="#4a4a4a" stroke-width="1.2"/>
<text x="442.8" y="432.8" font-size="8.4" text-anchor="middle" fill="#3a3a3a">12</text>
<line x1="482.6" y1="421.2" x2="482.6" y2="418.2" stroke="#4a4a4a" stroke-width="1.2"/>
<text x="482.6" y="432.8" font-size="8.4" text-anchor="middle" fill="#3a3a3a">14</text>
<line x1="522.4" y1="421.2" x2="522.4" y2="418.2" stroke="#4a4a4a" stroke-width="1.2"/>
<text x="522.4" y="432.8" font-size="8.4" text-anchor="middle" fill="#3a3a3a">16</text>
<text x="299.7" y="424.2" font-size="8.4" text-anchor="end" fill="#3a3a3a">0. 3</text>
<line x1="303.4" y1="391.7" x2="306.4" y2="391.7" stroke="#4a4a4a" stroke-width="1.2"/>
<text x="299.7" y="394.7" font-size="8.4" text-anchor="end" fill="#3a3a3a">0. 4</text>
<line x1="303.4" y1="362.2" x2="306.4" y2="362.2" stroke="#4a4a4a" stroke-width="1.2"/>
<text x="299.7" y="365.2" font-size="8.4" text-anchor="end" fill="#3a3a3a">0. 5</text>
<line x1="303.4" y1="332.6" x2="306.4" y2="332.6" stroke="#4a4a4a" stroke-width="1.2"/>
<text x="299.7" y="335.6" font-size="8.4" text-anchor="end" fill="#3a3a3a">0. 6</text>
<line x1="303.4" y1="303.1" x2="306.4" y2="303.1" stroke="#4a4a4a" stroke-width="1.2"/>
<text x="299.7" y="306.1" font-size="8.4" text-anchor="end" fill="#3a3a3a">0. 7</text>
<line x1="303.4" y1="273.6" x2="306.4" y2="273.6" stroke="#4a4a4a" stroke-width="1.2"/>
<text x="299.7" y="276.6" font-size="8.4" text-anchor="end" fill="#3a3a3a">0. 8</text>
<line x1="303.4" y1="244.0" x2="306.4" y2="244.0" stroke="#4a4a4a" stroke-width="1.2"/>
<text x="299.7" y="247.0" font-size="8.4" text-anchor="end" fill="#3a3a3a">0. 9</text>
<rect x="308.0" y="231.0" width="18.0" height="8.0" fill="#ffa4aa"/>
<rect x="308.0" y="240.8" width="18.0" height="8.0" fill="#ffe2e4"/>
<text x="326.6" y="238.3" font-size="7.3" fill="#1a1a1a">95% confidence band</text>
<text x="326.6" y="247.8" font-size="7.3" fill="#1a1a1a">95% prediction band</text>
<text x="459.0" y="404.0" font-size="8.2" fill="#111" class="b">y=0.114727+0.0461747x</text>
<text x="459.0" y="413.8" font-size="8.2" fill="#111" class="b">r=0.56434</text>
<text x="539.0" y="238.0" font-size="7.8" text-anchor="end" fill="#333">(d)</text>
<text x="423.2" y="444.5" font-size="8.3" text-anchor="middle" fill="#151515">Al<tspan font-size="4.5">2</tspan>O<tspan font-size="4.5">3</tspan>(%)</text>
<text transform="translate(284.5,325.2) rotate(-90)" font-size="8.3" text-anchor="middle" fill="#151515">TiO<tspan font-size="4.5">2</tspan>(%)</text>
</svg></body></html>
